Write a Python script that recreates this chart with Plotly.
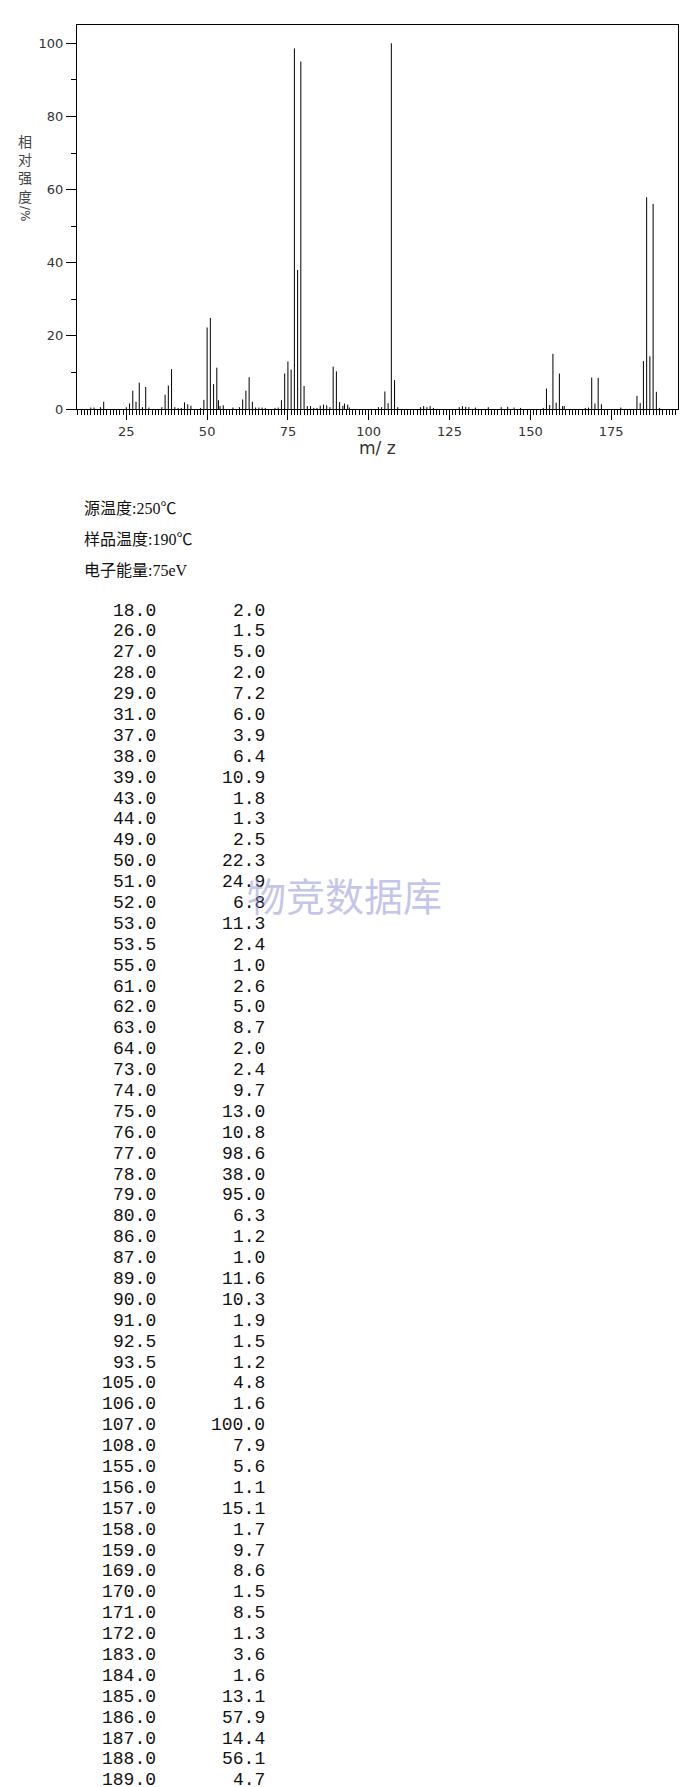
import plotly.graph_objects as go

# ---- data (table peaks) ----
mz = [18.0, 26.0, 27.0, 28.0, 29.0, 31.0, 37.0, 38.0, 39.0, 43.0,
      44.0, 49.0, 50.0, 51.0, 52.0, 53.0, 53.5, 55.0, 61.0, 62.0,
      63.0, 64.0, 73.0, 74.0, 75.0, 76.0, 77.0, 78.0, 79.0, 80.0,
      86.0, 87.0, 89.0, 90.0, 91.0, 92.5, 93.5, 105.0, 106.0, 107.0,
      108.0, 155.0, 156.0, 157.0, 158.0, 159.0, 169.0, 170.0, 171.0, 172.0,
      183.0, 184.0, 185.0, 186.0, 187.0, 188.0, 189.0]
intensity = [2.0, 1.5, 5.0, 2.0, 7.2, 6.0, 3.9, 6.4, 10.9, 1.8,
             1.3, 2.5, 22.3, 24.9, 6.8, 11.3, 2.4, 1.0, 2.6, 5.0,
             8.7, 2.0, 2.4, 9.7, 13.0, 10.8, 98.6, 38.0, 95.0, 6.3,
             1.2, 1.0, 11.6, 10.3, 1.9, 1.5, 1.2, 4.8, 1.6, 100.0,
             7.9, 5.6, 1.1, 15.1, 1.7, 9.7, 8.6, 1.5, 8.5, 1.3,
             3.6, 1.6, 13.1, 57.9, 14.4, 56.1, 4.7]

# small unlisted peaks visible in the spectrum (estimated)
minor_mz = [14, 15, 17, 25, 30, 32, 36, 40, 41, 42, 45, 48, 54, 58, 60,
            65, 66, 67, 68, 71, 72, 81, 82, 83, 84, 85, 88, 92, 94, 103,
            104, 109, 116, 117, 118, 119, 120, 128, 129, 130, 131, 133, 137,
            141, 143, 145, 147, 154, 160, 160.5, 167, 168, 178, 190]
minor_int = [0.4, 0.4, 0.5, 0.5, 0.5, 0.4, 0.5, 0.5, 0.3, 0.3, 0.9, 0.3, 0.8, 0.4, 0.5,
             0.4, 0.4, 0.4, 0.3, 0.3, 0.4, 0.8, 0.8, 0.3, 0.3, 0.9, 0.5, 0.9, 0.4, 0.5,
             0.5, 0.5, 0.5, 0.8, 0.5, 0.8, 0.3, 0.5, 0.8, 0.6, 0.5, 0.4, 0.5,
             0.5, 0.6, 0.4, 0.3, 0.3, 0.8, 0.8, 0.3, 0.4, 0.4, 0.3]

x_ticks = [25, 50, 75, 100, 125, 150, 175]
y_ticks = [0, 20, 40, 60, 80, 100]

header_lines = ["源温度:250℃", "样品温度:190℃", "电子能量:75eV"]
y_label_chars = ["相", "对", "强", "度"]

# ---- geometry (page pixels; the page body adds an 8px offset) ----
OFF = 8
PAGE_W, PAGE_H = 687, 1787
W, H = PAGE_W - OFF, PAGE_H - OFF
L, R, T, B = 77 - OFF, 678 - OFF, 25 - OFF, 409 - OFF


def fx(X):
    return (X - OFF - L) / (R - L)


def fy(Y):
    return (B - (Y - OFF)) / (B - T)


def stems(xs, ys):
    sx, sy = [], []
    for a, b in zip(xs, ys):
        sx += [a, a, None]
        sy += [0, b, None]
    return sx, sy


fig = go.Figure()
ax, ay = stems(minor_mz + mz, minor_int + intensity)
fig.add_trace(go.Scatter(x=ax, y=ay, mode="lines",
                         line=dict(color="black", width=1),
                         hoverinfo="skip", showlegend=False))

tick_font = dict(family="DejaVu Sans", size=13, color="#333333")
fig.update_xaxes(range=[9.74, 195.7], showline=True, linecolor="black", linewidth=1,
                 mirror=True, ticks="outside", ticklen=10, tickcolor="black",
                 tickvals=x_ticks, tickfont=tick_font, showgrid=False, zeroline=False,
                 minor=dict(dtick=1, tick0=0, ticks="outside", ticklen=5,
                            tickcolor="black", showgrid=False))
fig.update_yaxes(range=[0, 105], showline=True, linecolor="black", linewidth=1,
                 mirror=True, ticks="outside", ticklen=10, tickcolor="black",
                 tickvals=y_ticks, tickfont=tick_font, showgrid=False, zeroline=False,
                 minor=dict(dtick=10, tick0=0, ticks="outside", ticklen=5,
                            tickcolor="black", showgrid=False))

ann = []
# x axis title
ann.append(dict(x=fx(377), y=fy(448), xref="paper", yref="paper", text="m/ z",
                showarrow=False, xanchor="center", yanchor="middle",
                font=dict(family="DejaVu Sans", size=17, color="#333333")))
# y axis title stacked
ann.append(dict(x=fx(25), y=fy(168), xref="paper", yref="paper",
                text="<br>".join(y_label_chars),
                showarrow=False, xanchor="center", yanchor="middle", borderpad=0,
                font=dict(family="Noto Sans CJK SC", size=14, color="#444444")))
ann.append(dict(x=fx(25), y=fy(214), xref="paper", yref="paper", text="/%",
                showarrow=False, xanchor="center", yanchor="middle", textangle=90,
                borderpad=0,
                font=dict(family="DejaVu Sans", size=12, color="#444444")))

# header lines
for txt, yc in zip(header_lines, [508, 539, 570.5]):
    ann.append(dict(x=fx(82), y=fy(yc), xref="paper", yref="paper", text=txt,
                    showarrow=False, xanchor="left", yanchor="middle",
                    font=dict(family="Liberation Serif, Noto Sans CJK SC", size=16,
                              color="#111111")))

# table
row0, dy = 610.5, 20.89
mono = dict(family="Liberation Mono", size=18, color="#111111")
for i, (m, v) in enumerate(zip(mz, intensity)):
    yc = row0 + i * dy
    ann.append(dict(x=fx(157), y=fy(yc), xref="paper", yref="paper", text=f"{m:.1f}",
                    showarrow=False, xanchor="right", yanchor="middle", font=mono,
                    borderpad=0))
    ann.append(dict(x=fx(266), y=fy(yc), xref="paper", yref="paper", text=f"{v:.1f}",
                    showarrow=False, xanchor="right", yanchor="middle", font=mono,
                    borderpad=0))

# watermark
ann.append(dict(x=fx(344), y=fy(894), xref="paper", yref="paper", text="物竞数据库",
                showarrow=False, xanchor="center", yanchor="middle",
                font=dict(family="Noto Sans CJK SC", size=39, color="rgba(140,140,215,0.5)")))

fig.update_layout(width=W, height=H, margin=dict(l=L, r=W - R, t=T, b=H - B),
                  paper_bgcolor="white", plot_bgcolor="white", annotations=ann,
                  showlegend=False)

fig.write_html("out.html")
